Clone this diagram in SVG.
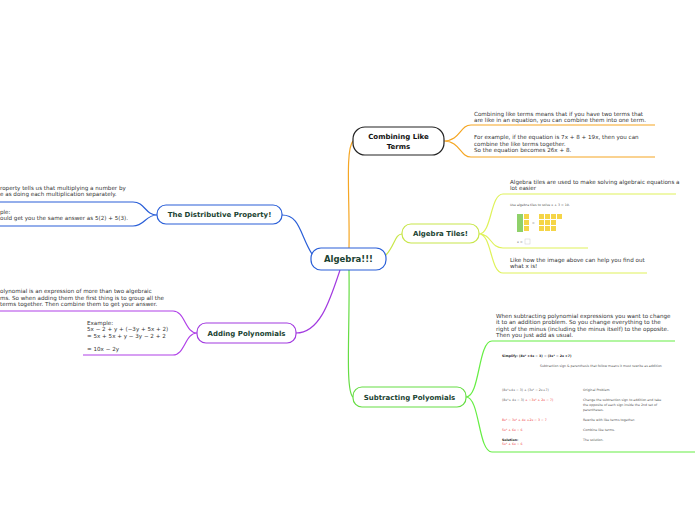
<svg xmlns="http://www.w3.org/2000/svg" width="697" height="520" viewBox="0 0 697 520">
<style>
text{font-family:"DejaVu Sans",sans-serif;fill:#333;font-size:5.6px}
.n{font-weight:bold;font-size:7px;fill:#1b4332;text-anchor:middle}
.c{fill:none;stroke-width:1.2}
.t{font-size:3.2px;fill:#555}
</style>
<rect width="697" height="520" fill="#fff"/>
<g id="connectors" class="c">
<path d="M349,249 C350,200 345,150 353,141" stroke="#f5a623"/>
<path d="M386,255 C395,245 395,234 402,234" stroke="#c8e64a"/>
<path d="M349,270 C350,330 345,390 353,397" stroke="#66dd44"/>
<path d="M312,254 C300,235 300,215 282,215" stroke="#2a5fd8"/>
<path d="M340,270 C330,300 320,333 296,333" stroke="#a23ae0"/>
<path d="M444,141 C460,141 460,125 471,125 L655,125 M444,141 C460,141 460,157 471,157 L655,157" stroke="#f5a623"/>
<path d="M479,234 C492,234 490,194 503,194 L676,194 M479,234 C492,234 490,248 503,248 L588,248 M479,234 C492,234 490,273 503,273 L647,273" stroke="#dff25a"/>
<path d="M466,397 C480,397 478,341 492,341 L675,341 M466,397 C480,397 478,452 492,452 L695,452" stroke="#66ee44"/>
<path d="M157,215 C145,215 145,202 133,202 L0,202 M157,215 C145,215 145,226 133,226 L0,226" stroke="#2a5fd8"/>
<path d="M197,333 C185,333 185,311 173,311 L0,311 M197,333 C185,333 185,355 173,355 L83,355" stroke="#b040e8"/>
</g>
<g id="central"><rect x="311" y="248" width="75" height="22" rx="10" fill="#fff" stroke="#2a5fd8" stroke-width="1.2"/><text class="n" x="348.5" y="262" style="font-size:8.5px">Algebra!!!</text></g>
<g id="combining"><rect x="353" y="127" width="91" height="28" rx="12" fill="#fff" stroke="#222" stroke-width="1.2"/><text class="n" x="398.5" y="139" style="fill:#111">Combining Like</text><text class="n" x="398.5" y="148.5" style="fill:#111">Terms</text>
<text x="474" y="116">Combining like terms means that if you have two terms that</text><text x="474" y="122">are like in an equation, you can combine them into one term.</text>
<text x="474" y="139">For example, if the equation is  7x + 8 + 19x, then you can</text><text x="474" y="146">combine the like terms together.</text><text x="474" y="152">So the equation becomes 26x + 8.</text></g>
<g id="tiles"><rect x="402" y="224" width="77" height="19" rx="9" fill="#fff" stroke="#c8e64a" stroke-width="1.2"/><text class="n" x="440.5" y="236">Algebra Tiles!</text>
<text x="510" y="184">Algebra tiles are used to make solving algebraic equations a</text><text x="510" y="190">lot easier</text>
<text class="t" x="510" y="206">Use algebra tiles to solve x + 3 = 10.</text>
<rect x="517" y="214" width="6" height="18" fill="#8fd16a"/>
<g fill="#f5d547"><rect x="524" y="214" width="5" height="5"/><rect x="524" y="220" width="5" height="5"/><rect x="524" y="226" width="5" height="5"/>
<rect x="539" y="214" width="5" height="5"/><rect x="545" y="214" width="5" height="5"/><rect x="551" y="214" width="5" height="5"/><rect x="557" y="214" width="5" height="5"/>
<rect x="539" y="220" width="5" height="5"/><rect x="545" y="220" width="5" height="5"/><rect x="551" y="220" width="5" height="5"/>
<rect x="539" y="226" width="5" height="5"/><rect x="545" y="226" width="5" height="5"/><rect x="551" y="226" width="5" height="5"/></g>
<text class="t" x="532" y="224">=</text><text class="t" x="517" y="243">x =</text><rect x="525" y="239" width="5" height="5" fill="none" stroke="#ccc" stroke-width="0.5"/>
<text x="510" y="262">Like how the image above can help you find out</text><text x="510" y="268">what x is!</text></g>
<g id="subtracting"><rect x="353" y="387" width="113" height="20" rx="9" fill="#fff" stroke="#66dd44" stroke-width="1.2"/><text class="n" x="409.5" y="399.5">Subtracting Polyomials</text>
<text x="496" y="318">When subtracting polynomial expressions you want to change</text><text x="496" y="324">it to an addition problem. So you change everything to the</text><text x="496" y="331">right of the minus (including the minus itself) to the opposite.</text><text x="496" y="337">Then you just add as usual.</text>
<text class="t" x="502" y="357" style="fill:#222;font-weight:bold">Simplify:  (8x² +4x − 3) − (3x² − 2x +7)</text>
<text class="t" x="540" y="367">Subtraction sign &amp; parenthesis that follow means it must rewrite as addition</text>
<text class="t" x="502" y="391">(8x²+4x − 3) + (3x² − 2x+7)</text><text class="t" x="583" y="391">Original Problem</text>
<text class="t" x="502" y="401">(8x²+ 4x − 3) <tspan fill="#e33">+ −3x² + 2x − 7)</tspan></text><text class="t" x="583" y="401">Change the subtraction sign to addition and take</text><text class="t" x="583" y="406">the opposite of each sign inside the 2nd set of</text><text class="t" x="583" y="411">parentheses.</text>
<text class="t" x="502" y="421" style="fill:#e33">8x² − 3x² + 4x +2x − 3 − 7</text><text class="t" x="583" y="421">Rewrite with like terms together.</text>
<text class="t" x="502" y="431" style="fill:#e33">5x² + 6x − 6</text><text class="t" x="583" y="431">Combine like terms.</text>
<text class="t" x="502" y="441" style="fill:#111;font-weight:bold">Solution:</text><text class="t" x="502" y="445" style="fill:#e33">5x² + 6x − 6</text><text class="t" x="583" y="441">The solution.</text></g>
<g id="distributive"><rect x="157" y="205" width="125" height="19" rx="9" fill="#fff" stroke="#2a5fd8" stroke-width="1.2"/><text class="n" x="219.5" y="217">The Distributive Property!</text>
<text x="0" y="190">roperty tells us that multiplying a number by</text><text x="0" y="196">e as doing each multiplication separately.</text>
<text x="0" y="214">ple:</text><text x="0" y="220">ould get you the same answer as 5(2) + 5(3).</text></g>
<g id="adding"><rect x="197" y="323" width="99" height="20" rx="9" fill="#fff" stroke="#a23ae0" stroke-width="1.2"/><text class="n" x="246.5" y="335.5">Adding Polynomials</text>
<text x="0" y="293">olynomial is an expression of more than two algebraic</text><text x="0" y="300">ms. So when adding them the first thing is to group all the</text><text x="0" y="306">terms together. Then combine them to get your answer.</text>
<text x="87" y="325">Example:</text><text x="87" y="331">5x − 2 + y + (−3y + 5x + 2)</text><text x="87" y="338">= 5x + 5x + y − 3y − 2 + 2</text><text x="87" y="351">= 10x − 2y</text></g>
</svg>
